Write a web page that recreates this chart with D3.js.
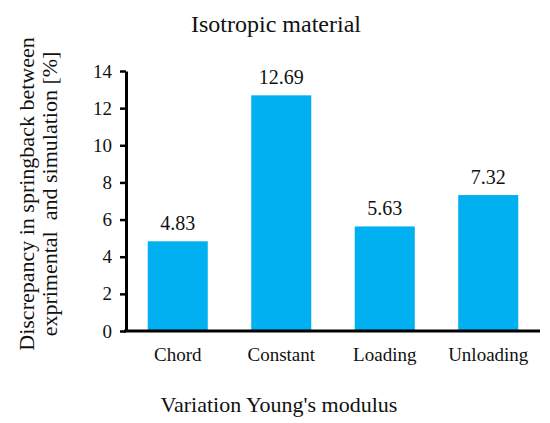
<!DOCTYPE html>
<html>
<head>
<meta charset="utf-8">
<script src="https://cdn.jsdelivr.net/npm/d3@7"></script>
<style>
  body { margin: 0; background: #fff; }
  svg text { font-family: "Liberation Serif", "Times New Roman", serif; fill: #111; }
</style>
</head>
<body>
<div id="chart"></div>
<script>
const categories = ["Chord", "Constant", "Loading", "Unloading"];
const values = [4.83, 12.69, 5.63, 7.32];
const yTicks = [0, 2, 4, 6, 8, 10, 12, 14];

const serif = "'Liberation Serif', 'Times New Roman', serif";

let width = 550,
  height = 423;

let margin = { left: 126, right: 10, top: 71, bottom: 92 };

let svg = d3.select("#chart")
  .append("svg")
  .attr("width", width)
  .attr("height", height)
  .style("font-family", serif);

let x = d3.scaleBand()
  .domain(categories)
  .range([margin.left, 540])
  .paddingInner(0.42)
  .paddingOuter(0.21);

let y = d3.scaleLinear()
  .domain([0, 14])
  .range([331, margin.top]);

let data = categories.map((c, i) => ({ cat: c, val: values[i] }));

// bars
svg.selectAll("rect.bar")
  .data(data)
  .join("rect")
  .attr("class", "bar")
  .attr("x", d => x(d.cat))
  .attr("width", x.bandwidth())
  .attr("y", d => y(d.val))
  .attr("height", d => y(0) - y(d.val))
  .attr("fill", "#00b0f0");

// value labels
svg.selectAll("text.val")
  .data(data)
  .join("text")
  .attr("class", "val")
  .attr("x", d => x(d.cat) + x.bandwidth() / 2)
  .attr("y", d => y(d.val) - 11)
  .attr("text-anchor", "middle")
  .style("font-size", "20px")
  .text(d => d.val.toFixed(2));

// y axis
let yAxis = svg.append("g")
  .attr("transform", `translate(${margin.left},0)`)
  .call(d3.axisLeft(y).tickValues(yTicks).tickSize(6).tickPadding(8).tickSizeOuter(0))
  .attr("font-family", serif);

yAxis.select(".domain").attr("stroke", "#000").attr("stroke-width", 3);
yAxis.selectAll(".tick line").attr("stroke", "#000").attr("stroke-width", 2.5);
yAxis.selectAll(".tick text")
  .style("font-size", "19px")
  .attr("fill", "#111");

// x axis
let xAxis = svg.append("g")
  .attr("transform", `translate(0,${y(0)})`)
  .call(d3.axisBottom(x).tickSize(0).tickPadding(17).tickSizeOuter(0))
  .attr("font-family", serif);

xAxis.select(".domain")
  .attr("d", `M${margin.left - 2},0H540`)
  .attr("stroke", "#000").attr("stroke-width", 3);
xAxis.selectAll(".tick text")
  .style("font-size", "19px")
  .attr("fill", "#111");

// title
svg.append("text")
  .attr("x", 276)
  .attr("y", 32)
  .attr("text-anchor", "middle")
  .style("font-size", "24px")
  .text("Isotropic material");

// x title
svg.append("text")
  .attr("x", 279)
  .attr("y", 412)
  .attr("text-anchor", "middle")
  .style("font-size", "22px")
  .text("Variation Young's modulus");

// y title (two lines)
let yTitle = svg.append("text")
  .attr("transform", "translate(34,194) rotate(-90)")
  .attr("text-anchor", "middle")
  .style("font-size", "22px");

yTitle.append("tspan")
  .attr("x", 0)
  .attr("y", 0)
  .text("Discrepancy in springback between");

yTitle.append("tspan")
  .attr("x", 0)
  .attr("dy", 23)
  .style("white-space", "pre")
  .text("exprimental  and simulation [%]");
</script>
</body>
</html>
